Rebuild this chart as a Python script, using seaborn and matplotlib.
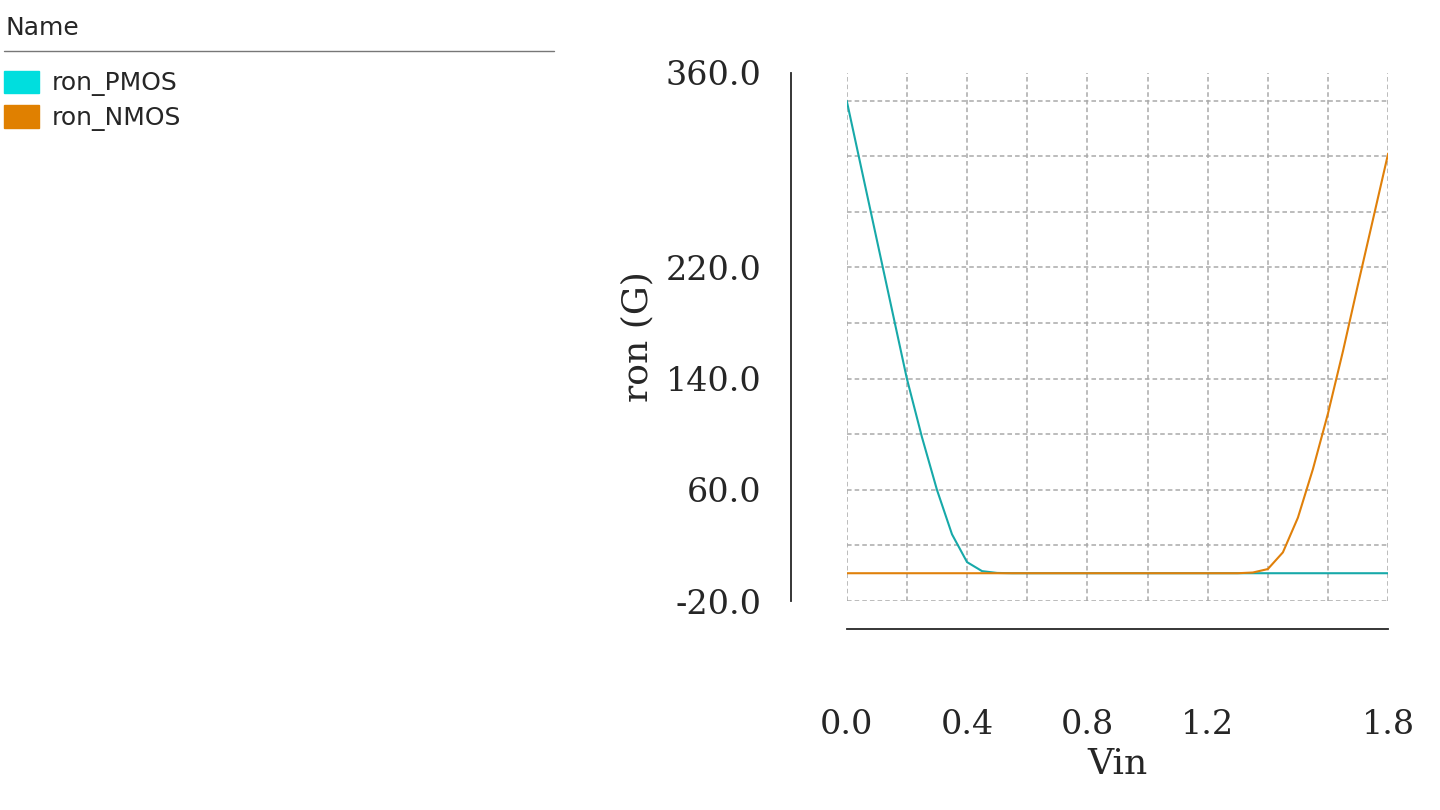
import numpy as np
import pandas as pd
import matplotlib
matplotlib.use("Agg")
import matplotlib.pyplot as plt
import matplotlib.patches as mpatches
from matplotlib.ticker import MultipleLocator, FixedLocator
import seaborn as sns

vin = [0.0, 0.05, 0.1, 0.15, 0.2, 0.25, 0.3, 0.35, 0.4, 0.45, 0.5, 0.55, 0.6,
       0.8, 1.0, 1.2, 1.3, 1.35, 1.4, 1.45, 1.5, 1.55, 1.6, 1.65, 1.7, 1.75, 1.8]
ron_pmos = [340, 290, 240, 190, 140, 98, 60, 28, 8, 1.5, 0.2, 0, 0,
            0, 0, 0, 0, 0, 0, 0, 0, 0, 0, 0, 0, 0, 0]
ron_nmos = [0, 0, 0, 0, 0, 0, 0, 0, 0, 0, 0, 0, 0,
            0, 0, 0, 0, 0.5, 3, 15, 40, 75, 115, 160, 208, 255, 302]
names = ["ron_PMOS", "ron_NMOS"]
line_colors = ["#17a9a9", "#e0800a"]
patch_colors = ["#00dede", "#e08000"]
y_labels = [-20, 60, 140, 220, 360]
y_grid = [-20, 20, 60, 100, 140, 180, 220, 260, 300, 340]
x_labels = [0.0, 0.4, 0.8, 1.2, 1.8]
x_grid = [0.0, 0.2, 0.4, 0.6, 0.8, 1.0, 1.2, 1.4, 1.6, 1.8]

df = pd.DataFrame({"Vin": vin * 2,
                   "ron": ron_pmos + ron_nmos,
                   "Name": [names[0]] * len(vin) + [names[1]] * len(vin)})

sns.set_style("white")
fig = plt.figure(figsize=(14.4, 8.1), dpi=100)
ax = fig.add_axes([0.588, 0.258, 0.376, 0.652])

for g in y_grid:
    ax.axhline(g, color="#aaaaaa", linestyle=(0, (3, 2)), linewidth=1.1, zorder=0)
for g in x_grid:
    ax.axvline(g, color="#aaaaaa", linestyle=(0, (3, 2)), linewidth=1.1, zorder=0)

sns.lineplot(data=df, x="Vin", y="ron", hue="Name", palette=line_colors,
             linewidth=1.5, legend=False, ax=ax)

ax.set_xlim(0, 1.8)
ax.set_ylim(-20, 360)
for s in ["top", "right"]:
    ax.spines[s].set_visible(False)
ax.spines["left"].set_position(("outward", 40))
ax.spines["bottom"].set_position(("outward", 20))
ax.yaxis.set_major_locator(FixedLocator(y_labels))
ax.yaxis.set_minor_locator(MultipleLocator(10))
ax.xaxis.set_major_locator(FixedLocator(x_labels))
ax.xaxis.set_minor_locator(MultipleLocator(0.05))
ax.set_yticklabels([f"{v:.1f}" for v in y_labels], family="DejaVu Serif", fontsize=24)
ax.set_xticklabels([f"{v:.1f}" for v in x_labels], family="DejaVu Serif", fontsize=24)
ax.tick_params(axis="both", which="both", direction="out", color="black",
               length=10, width=1.3)
ax.tick_params(axis="y", which="major", length=18)
ax.tick_params(axis="x", which="major", length=18, pad=40)
ax.tick_params(axis="x", which="minor", length=18)
for s in ["left", "bottom"]:
    ax.spines[s].set_linewidth(1.3)
ax.set_xlabel("Vin", fontsize=26, family="DejaVu Serif")
ax.set_ylabel("ron (G)", fontsize=26, family="DejaVu Serif", labelpad=8)

# legend panel on the left
fig.text(0.004, 0.965, "Name", fontsize=18, va="center", ha="left")
fig.add_artist(plt.Line2D([0.003, 0.385], [0.937, 0.937], color="#777777", linewidth=1))
handles = [mpatches.Patch(color=c, label=n) for c, n in zip(patch_colors, names)]
fig.legend(handles=handles, loc="upper left", bbox_to_anchor=(-0.004, 0.925),
           frameon=False, fontsize=18, handlelength=1.4, handleheight=1.0,
           handletextpad=0.5, labelspacing=0.35, borderaxespad=0)

fig.savefig("out.png", dpi=100)
